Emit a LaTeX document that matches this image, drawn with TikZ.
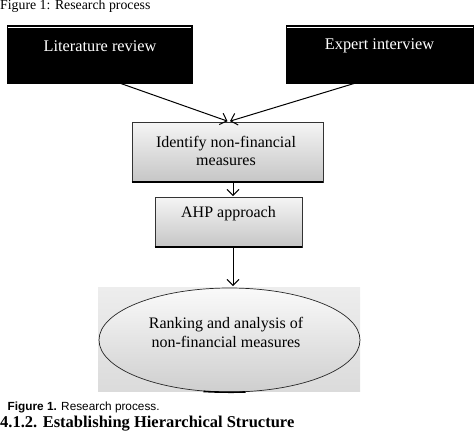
\documentclass[tikz,border=0pt]{standalone}
\usepackage{fontspec}
\setmainfont{Liberation Serif}
\newfontfamily\capsans{Liberation Sans}
\usetikzlibrary{arrows.meta,calc,shapes.geometric}
\tikzset{
  blackbox/.style={draw=black,fill=black,minimum width=185pt,minimum height=58pt,inner sep=0pt},
  whitetext/.style={text=white,font=\fontsize{16.3}{18}\selectfont,inner sep=0pt},
  graybox/.style={draw=black!80,line width=0.7pt,top color=gray!8,bottom color=gray!45,inner sep=0pt},
  boxtext/.style={font=\fontsize{16}{18.5}\selectfont,align=center,inner sep=0pt},
  arr/.style={line width=1pt,-{Straight Barb[length=6pt,width=12pt,line width=1pt]}},
}
\begin{document}
\begin{tikzpicture}[x=1pt,y=-1pt]
\useasboundingbox (0,0) rectangle (474,432);
% title
\node[anchor=base west,inner sep=0pt,font=\fontsize{13.8}{15}\selectfont] (title) at (0,9.5) {Figure 1: Research process};
% top black boxes
\node[blackbox] (lit) at (99.5,54) {};
\draw[white,line width=1.2pt] ($(lit.north west)+(1,2.5)$) -- ($(lit.north east)+(-1,2.5)$);
\node[whitetext] (littext) at (100,46) {Literature review};
\node[blackbox,minimum width=188pt] (exp) at (380,54) {};
\draw[white,line width=1.2pt] ($(exp.north west)+(1,2.5)$) -- ($(exp.north east)+(-1,2.5)$);
\node[whitetext] (exptext) at (379.5,46) {Expert interview};
% identify box
\node[graybox,minimum width=191pt,minimum height=60pt] (ident) at (227.5,152) {};
\draw[line width=2pt] ($(ident.south west)+(0,-0.6)$) -- ($(ident.south east)+(0,-0.6)$);
\node[boxtext] (identtext) at (226,151) {Identify non-financial\\measures};
% AHP box
\node[graybox,minimum width=147pt,minimum height=50pt] (ahp) at (228.5,222) {};
\draw[line width=2pt] ($(ahp.south west)+(0,-0.6)$) -- ($(ahp.south east)+(0,-0.6)$);
\node[boxtext] (ahptext) at (228.5,214) {AHP approach};
% ellipse with background
\node[draw=none,top color=gray!14,bottom color=gray!28,minimum width=262pt,minimum height=104pt,inner sep=0pt] (ellbg) at (229,339) {};
\node[ellipse,draw=black!85,line width=0.7pt,top color=gray!4,bottom color=gray!38,minimum width=261pt,minimum height=104pt,inner sep=0pt] (ell) at (229.5,340) {};
\draw[line width=1.6pt] ($(ell.south)+(-26,-0.9)$) .. controls ($(ell.south)+(-10,0)$) and ($(ell.south)+(6,0)$) .. ($(ell.south)+(16,-0.4)$);
\node[boxtext] (elltext) at (226,332.5) {Ranking and analysis of\\non-financial measures};
% connectors
\draw[arr] ($(lit.south)+(20.5,0)$) -- ($(ident.north)+(0,-0.5)$);
\draw[arr] ($(exp.south)+(-25,0)$) -- ($(ident.north)+(2.5,-0.5)$);
\draw[arr] ($(ident.south)+(5.5,1)$) -- ($(ahp.north)+(4.5,-0.5)$);
\draw[arr] ($(ahp.south)+(4.5,1)$) -- ($(ell.north)+(3.5,-1.5)$);
% captions
\node[anchor=base west,inner sep=0pt,font=\capsans\fontsize{11.8}{13}\selectfont] (cap) at (7.5,410.5) {\textbf{Figure 1.} Research process.};
\node[anchor=base west,inner sep=0pt,font=\bfseries\fontsize{16.5}{18}\selectfont] (sec) at (0,427.5) {4.1.2. Establishing Hierarchical Structure};
\end{tikzpicture}
\end{document}
